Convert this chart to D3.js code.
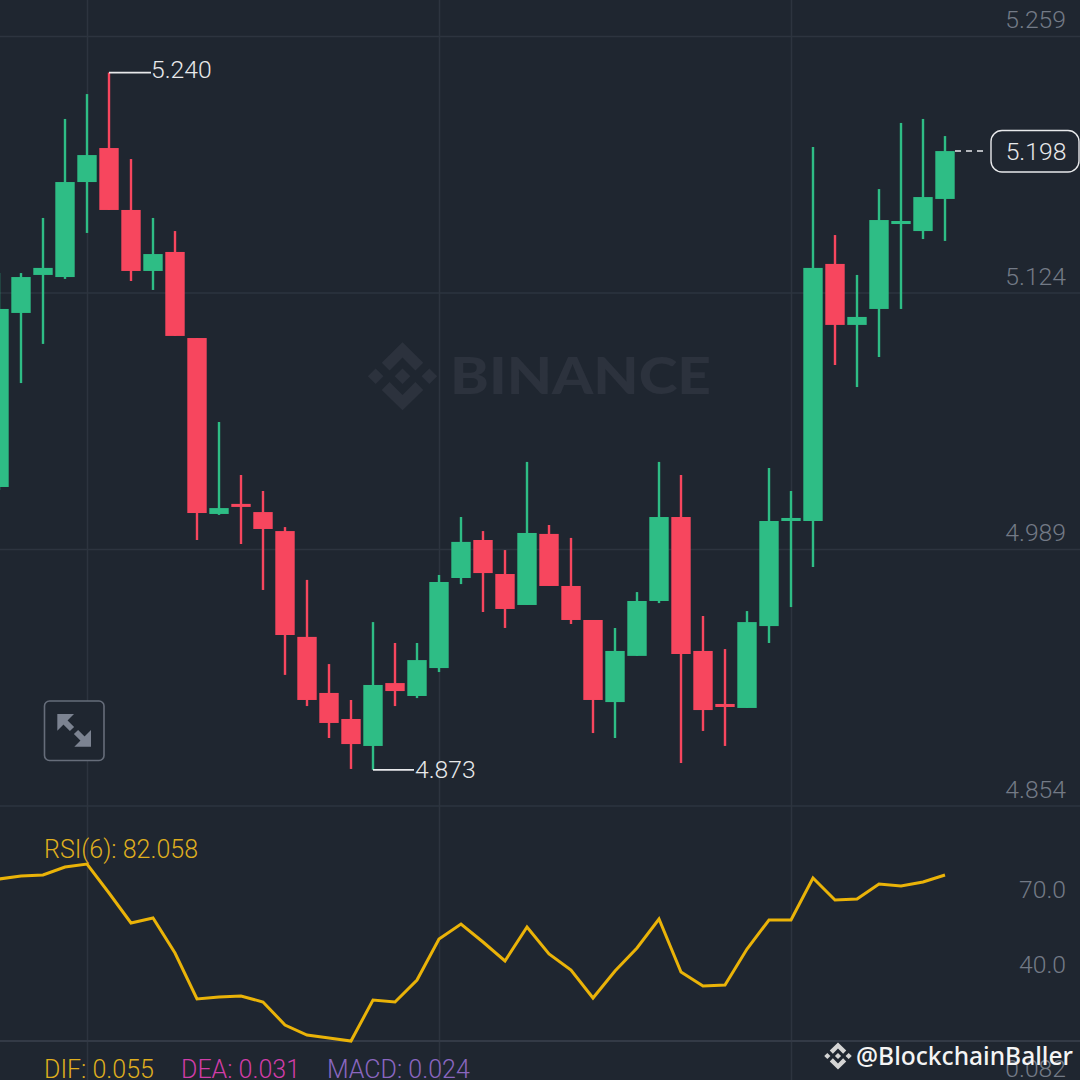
<!DOCTYPE html>
<html>
<head>
<meta charset="utf-8">
<script src="https://cdnjs.cloudflare.com/ajax/libs/d3/7.8.5/d3.min.js"></script>
<style>
html,body{margin:0;padding:0;background:#1f2630;overflow:hidden}
svg{display:block}
text{font-family:Roboto,sans-serif;font-weight:300}
</style>
</head>
<body>
<div id="chart"></div>
<script>
const opens  = [5.0219,5.1135,5.1335,5.1324,5.1824,5.2003,5.1677,5.1356,5.1456,5.1003,5.0077,5.0130,5.0087,4.9987,4.9430,4.9135,4.8998,4.8856,4.9187,4.9119,4.9266,4.9740,4.9940,4.9761,4.9598,4.9972,4.9698,4.9519,4.9087,4.9330,4.9619,5.0061,4.9356,4.9077,4.9056,4.9487,5.0040,5.0040,5.1393,5.1072,5.1156,5.1603,5.1566,5.1735];
const closes = [5.1156,5.1324,5.1372,5.1824,5.1966,5.1677,5.1356,5.1445,5.1014,5.0082,5.0108,5.0114,4.9998,4.9440,4.9098,4.8977,4.8866,4.9177,4.9145,4.9308,4.9719,4.9930,4.9766,4.9577,4.9977,4.9698,4.9519,4.9098,4.9356,4.9619,5.0061,4.9340,4.9045,4.9061,4.9508,5.0040,5.0056,5.1372,5.1072,5.1114,5.1624,5.1619,5.1745,5.1987];
const highs  = [5.1345,5.1345,5.1635,5.2156,5.2287,5.2400,5.1945,5.1635,5.1566,5.1003,5.0561,5.0282,5.0198,5.0008,4.9730,4.9287,4.9098,4.9508,4.9398,4.9398,4.9756,5.0061,4.9987,4.9887,5.0351,5.0019,4.9951,4.9519,4.9477,4.9666,5.0351,5.0282,4.9540,4.9366,4.9566,5.0319,5.0198,5.2008,5.1545,5.1335,5.1787,5.2135,5.2156,5.2066];
const lows   = [5.0203,5.0766,5.0972,5.1314,5.1556,5.1677,5.1303,5.1256,5.1014,4.9940,5.0072,4.9919,4.9677,4.9230,4.9066,4.8898,4.8735,4.8730,4.9066,4.9108,4.9245,4.9708,4.9561,4.9477,4.9598,4.9698,4.9498,4.8924,4.8898,4.9330,4.9608,4.8766,4.8935,4.8856,4.9056,4.9398,4.9587,4.9798,5.0861,5.0745,5.0903,5.1156,5.1524,5.1514];
const rsiValues = [80.8,82,82.4,85.6,86.8,75.2,63.2,65.2,51.2,32.8,33.6,34,31.6,22.4,18.4,17.2,16,32.4,31.6,40.4,56.8,62.8,55.6,48,61.6,50.8,44.4,33.2,44,53.2,64.8,43.6,38,38.4,52.8,64.4,64.4,81.2,72.4,72.8,78.8,78,79.6,82.4];
const priceTicks = [5.259,5.124,4.989,4.854];
const rsiTicks = [70,40];
const timeGridIndex = [4,20,36];
const macdTickLabel = "0.082";
const highLabel = 5.240, lowLabel = 4.873, lastPrice = 5.198;
const highIndex = 5, lowIndex = 17, lastIndex = 43;

const BG="#1f2630", GRID="#2d343f", DIVIDER="#333a46", AXIS="#737a86", UP="#2ebd85", DOWN="#f7465e", RSI="#eab308";
const W=1080,H=1080,FS=24.7,LEG=25;
const svg=d3.select("#chart").append("svg").attr("width",W).attr("height",H).attr("viewBox",`0 0 ${W} ${H}`);
svg.append("rect").attr("width",W).attr("height",H).attr("fill",BG);

const x=d3.scaleLinear().domain([0,43]).range([-1,945]);
const y=d3.scaleLinear().domain([4.854,5.259]).range([806,36.5]);
const yR=d3.scaleLinear().domain([40,70]).range([981,906]);
const fmt3=d3.format(".3f"), fmt1=d3.format(".1f");

// grid
const grid=svg.append("g");
grid.selectAll("line.h").data(priceTicks).join("line").attr("class","h")
  .attr("x1",0).attr("x2",W).attr("y1",d=>y(d)).attr("y2",d=>y(d)).attr("stroke",GRID).attr("stroke-width",1.5);
grid.selectAll("line.v").data(timeGridIndex).join("line").attr("class","v")
  .attr("x1",d=>x(d)+0.5).attr("x2",d=>x(d)+0.5).attr("y1",0).attr("y2",H).attr("stroke",GRID).attr("stroke-width",1.5);
grid.append("line").attr("x1",0).attr("x2",W).attr("y1",1041).attr("y2",1041).attr("stroke",DIVIDER).attr("stroke-width",2);

// Binance mark
function logo(parent,cx,cy,size,fill){
  const s=size/200;
  const g=parent.append("g").attr("transform",`translate(${cx},${cy}) scale(${s})`).attr("fill",fill);
  [[0,0],[-79,0],[79,0]].forEach(c=>g.append("path").attr("d",`M${c[0]-23},${c[1]}L${c[0]},${c[1]-23}L${c[0]+23},${c[1]}L${c[0]},${c[1]+23}Z`));
  g.append("path").attr("d","M0,-100L61,-40L38,-17L0,-55L-38,-17L-61,-40Z");
  g.append("path").attr("d","M0,100L61,40L38,17L0,55L-38,17L-61,40Z");
}
logo(svg,402.5,376.3,68,"#2c323d");
svg.append("text").attr("x",450).attr("y",394).attr("font-size",52)
  .style("font-family","Lato,sans-serif").style("font-weight",900).attr("fill","#2c323d").attr("textLength",261).attr("lengthAdjust","spacingAndGlyphs").text("BINANCE");

// candles
const data=opens.map((o,i)=>({i,o,c:closes[i],h:highs[i],l:lows[i]}));
const candles=svg.append("g").selectAll("g").data(data).join("g")
  .attr("fill",d=>d.c>=d.o?UP:DOWN).attr("stroke",d=>d.c>=d.o?UP:DOWN);
candles.append("line").attr("x1",d=>x(d.i)).attr("x2",d=>x(d.i)).attr("y1",d=>y(d.h)).attr("y2",d=>y(d.l)).attr("stroke-width",2.4);
candles.append("rect").attr("x",d=>x(d.i)-9.7).attr("width",19.4)
  .attr("y",d=>y(Math.max(d.o,d.c))).attr("height",d=>Math.abs(y(d.o)-y(d.c))).attr("stroke","none");

// RSI
svg.append("path").datum(rsiValues)
  .attr("d",d3.line().x((d,i)=>x(i)).y(d=>yR(d)))
  .attr("fill","none").attr("stroke",RSI).attr("stroke-width",3).attr("stroke-linejoin","miter");

// axes
const axP=svg.append("g").call(d3.axisRight(y).tickValues(priceTicks).tickFormat(fmt3).tickSize(0));
const axR=svg.append("g").call(d3.axisRight(yR).tickValues(rsiTicks).tickFormat(fmt1).tickSize(0));
[axP,axR].forEach(a=>{
  a.select(".domain").remove();
  a.selectAll("text").attr("x",1066).attr("dy",-8.8).attr("text-anchor","end")
    .attr("font-size",FS).attr("fill",AXIS).style("font-family","Roboto,sans-serif").style("font-weight",300);
});
svg.append("text").attr("x",1066).attr("y",1077).attr("text-anchor","end").attr("font-size",FS).attr("fill",AXIS).text(macdTickLabel);

// high / low callouts
const CALL="#e8e9eb";
svg.append("path").attr("d",`M${x(highIndex)},${y(highLabel)}H151`).attr("fill","none").attr("stroke",CALL).attr("stroke-width",1.6);
svg.append("text").attr("x",151).attr("y",78).attr("font-size",FS).attr("fill",CALL).text(fmt3(highLabel));
svg.append("path").attr("d",`M${x(lowIndex)},${y(lowLabel)}H414`).attr("fill","none").attr("stroke",CALL).attr("stroke-width",1.6);
svg.append("text").attr("x",415).attr("y",778).attr("font-size",FS).attr("fill",CALL).text(fmt3(lowLabel));

// last price
const lastY=y(closes[lastIndex]);
svg.append("line").attr("x1",x(lastIndex)+10).attr("x2",985).attr("y1",lastY).attr("y2",lastY)
  .attr("stroke",CALL).attr("stroke-width",1.6).attr("stroke-dasharray","6 5");
svg.append("rect").attr("x",991).attr("y",130.5).attr("width",88).attr("height",41.5).attr("rx",11)
  .attr("fill",BG).attr("stroke",CALL).attr("stroke-width",1.4);
svg.append("text").attr("x",1036).attr("y",160).attr("text-anchor","middle").attr("font-size",FS).attr("fill",CALL).text(fmt3(lastPrice));

// legends
const legend=(tx,ty,c,t)=>svg.append("text").attr("x",tx).attr("y",ty).attr("font-size",LEG).attr("fill",c).text(t);
legend(44,857.5,"#dfae1e","RSI(6): 82.058");
legend(44,1077.5,"#dfae1e","DIF: 0.055");
legend(181,1077.5,"#d03da8","DEA: 0.031");
legend(327,1077.5,"#8a66c0","MACD: 0.024");

// expand button
svg.append("rect").attr("x",44.5).attr("y",701).attr("width",59.5).attr("height",59.5).attr("rx",5)
  .attr("fill",BG).attr("stroke","#666d7a").attr("stroke-width",1.6);
const ic=svg.append("g").attr("fill","#7c8391").attr("stroke","none");
ic.append("path").attr("d","M57.3,714H74L57.3,730.7Z");
ic.append("path").attr("d","M91,746.7H74.3L91,730Z");
ic.append("line").attr("x1",65).attr("y1",722).attr("x2",72).attr("y2",729).attr("stroke","#7c8391").attr("stroke-width",6);
ic.append("line").attr("x1",83).attr("y1",739).attr("x2",76).attr("y2",732).attr("stroke","#7c8391").attr("stroke-width",6);

// source watermark
logo(svg,838,1056,27,"#d4d4d4");
svg.append("text").attr("x",856).attr("y",1065).attr("font-size",25)
  .style("font-family","'Noto Sans',sans-serif").style("font-weight",500).attr("fill","#f4f4f4").attr("textLength",217).attr("lengthAdjust","spacingAndGlyphs").text("@BlockchainBaller");
</script>
</body>
</html>
